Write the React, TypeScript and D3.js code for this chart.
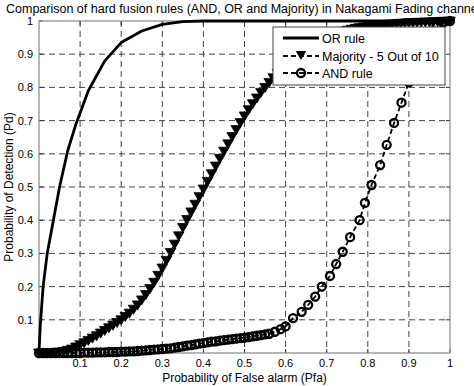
import React from "react";
import * as d3 from "d3";

const title = "Comparison of hard fusion rules (AND, OR and Majority) in Nakagami Fading channel";
const xLabel = "Probability of False alarm (Pfa)";
const yLabel = "Probability of Detection (Pd)";
const tickValues = [0.1, 0.2, 0.3, 0.4, 0.5, 0.6, 0.7, 0.8, 0.9, 1];
const legendLabels = ["OR rule", "Majority - 5 Out of 10", "AND rule"];

const orPfa = [0, 0.003, 0.01, 0.02, 0.035, 0.05, 0.07, 0.09, 0.12, 0.16, 0.2, 0.25, 0.3, 0.35, 0.4, 1];
const orPd = [0, 0.08, 0.2, 0.3, 0.4, 0.5, 0.61, 0.69, 0.79, 0.88, 0.935, 0.97, 0.99, 0.998, 1, 1];

const majPfa = d3.range(0, 101).map((i) => i / 100);
const majPd = [
  0, 0, 0, 0.001, 0.002, 0.003, 0.005, 0.008, 0.012, 0.018,
  0.025, 0.031, 0.038, 0.045, 0.052, 0.06, 0.068, 0.076, 0.084, 0.092,
  0.1, 0.11, 0.12, 0.132, 0.145, 0.16, 0.176, 0.194, 0.213, 0.234,
  0.256, 0.279, 0.303, 0.328, 0.353, 0.378, 0.402, 0.425, 0.448, 0.471,
  0.494, 0.517, 0.54, 0.563, 0.586, 0.608, 0.63, 0.652, 0.673, 0.694,
  0.714, 0.733, 0.751, 0.768, 0.785, 0.8, 0.815, 0.829, 0.842, 0.855,
  0.867, 0.878, 0.889, 0.899, 0.908, 0.917, 0.925, 0.932, 0.939, 0.945,
  0.951, 0.956, 0.961, 0.965, 0.969, 0.972, 0.975, 0.978, 0.98, 0.982,
  0.984, 0.986, 0.987, 0.988, 0.989, 0.99, 0.991, 0.992, 0.993, 0.994,
  0.995, 0.995, 0.996, 0.996, 0.997, 0.997, 0.998, 0.998, 0.999, 0.999, 1,
];

const andPfa = [
  0, 0.01, 0.02, 0.03, 0.04, 0.05, 0.06, 0.07, 0.08, 0.09,
  0.1, 0.11, 0.12, 0.13, 0.14, 0.15, 0.16, 0.17, 0.18, 0.19,
  0.2, 0.21, 0.22, 0.23, 0.24, 0.25, 0.26, 0.27, 0.28, 0.29,
  0.3, 0.31, 0.32, 0.33, 0.34, 0.35, 0.36, 0.37, 0.38, 0.39,
  0.4, 0.41, 0.42, 0.43, 0.44, 0.45, 0.46, 0.47, 0.48, 0.49,
  0.5, 0.51, 0.52, 0.53, 0.54, 0.55, 0.56, 0.574, 0.588, 0.6,
  0.618, 0.639, 0.655, 0.672, 0.688, 0.708, 0.723, 0.739, 0.757, 0.78,
  0.793, 0.809, 0.83, 0.846, 0.864, 0.882, 0.9, 0.917, 0.934, 0.95,
  0.967, 0.985, 1,
];
const andPd = [
  0, 0, 0, 0, 0, 0, 0, 0, 0, 0,
  0, 0.001, 0.001, 0.001, 0.002, 0.002, 0.002, 0.003, 0.003, 0.003,
  0.004, 0.004, 0.005, 0.005, 0.006, 0.007, 0.008, 0.009, 0.01, 0.011,
  0.012, 0.013, 0.014, 0.016, 0.018, 0.02, 0.022, 0.024, 0.026, 0.028,
  0.03, 0.032, 0.034, 0.035, 0.037, 0.039, 0.04, 0.042, 0.043, 0.045,
  0.046, 0.048, 0.05, 0.052, 0.054, 0.056, 0.058, 0.064, 0.072, 0.08,
  0.105, 0.124, 0.145, 0.17, 0.2, 0.232, 0.268, 0.305, 0.349, 0.4,
  0.452, 0.506, 0.566, 0.627, 0.693, 0.754, 0.815, 0.87, 0.92, 0.958,
  0.985, 0.997, 1,
];

const W = 474;
const H = 386;
const left = 39;
const right = 450;
const top = 21;
const bottom = 353;
const font = "'Liberation Sans', Arial, Helvetica, sans-serif";

export default function App() {
  const x = d3.scaleLinear().domain([0, 1]).range([left, right]);
  const y = d3.scaleLinear().domain([0, 1]).range([bottom, top]);
  const line = d3
    .line<[number, number]>()
    .x((d) => x(d[0]))
    .y((d) => y(d[1]));

  const orData = orPfa.map((p, i) => [p, orPd[i]] as [number, number]);
  const majData = majPfa.map((p, i) => [p, majPd[i]] as [number, number]);
  const andData = andPfa.map((p, i) => [p, andPd[i]] as [number, number]);

  const tri = (cx: number, cy: number, s = 5.3) =>
    `M${cx - s},${cy - s * 0.75}L${cx + s},${cy - s * 0.75}L${cx},${cy + s * 0.95}Z`;

  const lx0 = 273;
  const ly0 = 27;
  const lw = 172;
  const lh = 58;
  const rows = [38, 56, 73];

  return (
    <svg width={W} height={H} style={{ position: "absolute", left: 0, top: 0, background: "#fff" }}>
      <rect x={0} y={0} width={W} height={H} fill="#fff" />
      {/* grid */}
      {tickValues.filter((t) => t < 1).map((t) => (
        <g key={"g" + t}>
          <line x1={x(t)} x2={x(t)} y1={top} y2={bottom} stroke="#444" strokeWidth={1} strokeDasharray="6,4" />
          <line x1={left} x2={right} y1={y(t)} y2={y(t)} stroke="#444" strokeWidth={1} strokeDasharray="6,4" />
        </g>
      ))}
      {/* ticks */}
      {tickValues.map((t) => (
        <g key={"t" + t} stroke="#333" strokeWidth={1}>
          <line x1={x(t)} x2={x(t)} y1={bottom} y2={bottom - 4} />
          <line x1={x(t)} x2={x(t)} y1={top} y2={top + 4} />
          <line x1={left} x2={left + 4} y1={y(t)} y2={y(t)} />
          <line x1={right} x2={right - 4} y1={y(t)} y2={y(t)} />
        </g>
      ))}
      {/* box */}
      <rect x={left} y={top} width={right - left} height={bottom - top} fill="none" stroke="#888" strokeWidth={1.2} />

      {/* AND rule */}
      <path d={line(andData) || ""} fill="none" stroke="#000" strokeWidth={1.8} strokeDasharray="5,3" />
      {andData.map((d, i) => (
        <circle key={"a" + i} cx={x(d[0])} cy={y(d[1])} r={4} fill="none" stroke="#000" strokeWidth={2.3} />
      ))}
      {/* Majority */}
      <path d={line(majData) || ""} fill="none" stroke="#000" strokeWidth={1.8} strokeDasharray="5,3" />
      {majData.map((d, i) => (
        <path key={"m" + i} d={tri(x(d[0]), y(d[1]))} fill="#000" stroke="#000" strokeWidth={0.8} />
      ))}
      {/* OR rule */}
      <path d={line(orData) || ""} fill="none" stroke="#000" strokeWidth={2.8} strokeLinejoin="round" />

      {/* legend */}
      <rect x={lx0} y={ly0} width={lw} height={lh} fill="#fff" stroke="#444" strokeWidth={1} />
      <line x1={283} x2={319} y1={rows[0]} y2={rows[0]} stroke="#000" strokeWidth={2.8} />
      <line x1={283} x2={319} y1={rows[1]} y2={rows[1]} stroke="#000" strokeWidth={1.8} strokeDasharray="5,3" />
      <path d={tri(301, rows[1] - 1, 5.3)} fill="#000" />
      <line x1={283} x2={319} y1={rows[2]} y2={rows[2]} stroke="#000" strokeWidth={1.8} strokeDasharray="5,3" />
      <circle cx={301} cy={rows[2]} r={4} fill="none" stroke="#000" strokeWidth={2.3} />
      {legendLabels.map((l, i) => (
        <text key={l} x={322} y={rows[i] + 4.5} fontFamily={font} fontSize={12.5} fill="#000">
          {l}
        </text>
      ))}

      {/* tick labels */}
      {tickValues.map((t) => (
        <text key={"xl" + t} x={x(t)} y={367} textAnchor="middle" fontFamily={font} fontSize={11} fill="#000">
          {d3.format("~g")(t)}
        </text>
      ))}
      {tickValues.map((t) => (
        <text key={"yl" + t} x={33} y={y(t) + 4} textAnchor="end" fontFamily={font} fontSize={11} fill="#000">
          {d3.format("~g")(t)}
        </text>
      ))}
      {/* labels */}
      <text x={(left + right) / 2} y={382} textAnchor="middle" fontFamily={font} fontSize={12} fill="#000">
        {xLabel}
      </text>
      <text
        transform={`translate(13,${(top + bottom) / 2}) rotate(-90)`}
        textAnchor="middle"
        fontFamily={font}
        fontSize={12}
        fill="#000"
      >
        {yLabel}
      </text>
      <text x={6} y={13} fontFamily={font} fontSize={12.5} fill="#000">
        {title}
      </text>
    </svg>
  );
}
